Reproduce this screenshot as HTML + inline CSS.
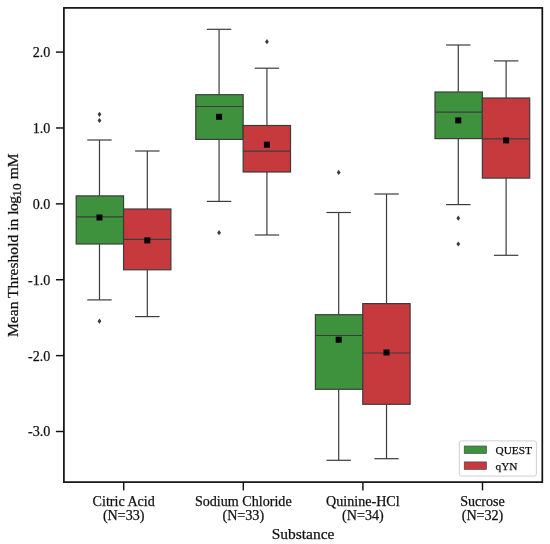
<!DOCTYPE html>
<html><head><meta charset="utf-8"><title>Mean Threshold Boxplot</title>
<style>
html,body{margin:0;padding:0;background:#fff;}
svg{display:block;}
text{font-family:"Liberation Serif","Times New Roman",serif;fill:#111;}
</style></head><body>
<svg width="550" height="544" viewBox="0 0 550 544">
<rect x="0" y="0" width="550" height="544" fill="#fff"/>
<g stroke="#3c3c3e" stroke-width="1.2" fill="none">
<line x1="99.48" y1="140.00" x2="99.48" y2="195.90"/>
<line x1="99.48" y1="244.00" x2="99.48" y2="299.90"/>
<line x1="87.26" y1="140.00" x2="111.70" y2="140.00"/>
<line x1="87.26" y1="299.90" x2="111.70" y2="299.90"/>
<rect x="76.19" y="195.90" width="47.36" height="48.10" fill="#3f923d"/>
<line x1="76.19" y1="216.80" x2="123.55" y2="216.80"/>
<rect x="96.48" y="214.50" width="6" height="6" fill="#000" stroke="none"/>
<path d="M99.48 111.70 L101.38 114.30 L99.48 116.90 L97.58 114.30 Z" fill="#3c3c3e" stroke="none"/>
<path d="M99.48 117.90 L101.38 120.50 L99.48 123.10 L97.58 120.50 Z" fill="#3c3c3e" stroke="none"/>
<path d="M99.48 318.60 L101.38 321.20 L99.48 323.80 L97.58 321.20 Z" fill="#3c3c3e" stroke="none"/>
<line x1="147.32" y1="151.00" x2="147.32" y2="209.00"/>
<line x1="147.32" y1="269.80" x2="147.32" y2="316.60"/>
<line x1="135.10" y1="151.00" x2="159.54" y2="151.00"/>
<line x1="135.10" y1="316.60" x2="159.54" y2="316.60"/>
<rect x="123.55" y="209.00" width="47.36" height="60.80" fill="#c6393d"/>
<line x1="123.55" y1="239.40" x2="170.91" y2="239.40"/>
<rect x="144.32" y="237.40" width="6" height="6" fill="#000" stroke="none"/>
<line x1="219.08" y1="29.30" x2="219.08" y2="94.70"/>
<line x1="219.08" y1="139.40" x2="219.08" y2="201.40"/>
<line x1="206.86" y1="29.30" x2="231.30" y2="29.30"/>
<line x1="206.86" y1="201.40" x2="231.30" y2="201.40"/>
<rect x="195.79" y="94.70" width="47.36" height="44.70" fill="#3f923d"/>
<line x1="195.79" y1="106.50" x2="243.15" y2="106.50"/>
<rect x="216.08" y="113.80" width="6" height="6" fill="#000" stroke="none"/>
<path d="M219.08 230.10 L220.98 232.70 L219.08 235.30 L217.18 232.70 Z" fill="#3c3c3e" stroke="none"/>
<line x1="266.92" y1="68.20" x2="266.92" y2="125.50"/>
<line x1="266.92" y1="172.00" x2="266.92" y2="235.00"/>
<line x1="254.70" y1="68.20" x2="279.14" y2="68.20"/>
<line x1="254.70" y1="235.00" x2="279.14" y2="235.00"/>
<rect x="243.15" y="125.50" width="47.36" height="46.50" fill="#c6393d"/>
<line x1="243.15" y1="151.20" x2="290.51" y2="151.20"/>
<rect x="263.92" y="141.70" width="6" height="6" fill="#000" stroke="none"/>
<path d="M266.92 39.10 L268.82 41.70 L266.92 44.30 L265.02 41.70 Z" fill="#3c3c3e" stroke="none"/>
<line x1="338.68" y1="212.50" x2="338.68" y2="314.70"/>
<line x1="338.68" y1="389.30" x2="338.68" y2="460.30"/>
<line x1="326.46" y1="212.50" x2="350.90" y2="212.50"/>
<line x1="326.46" y1="460.30" x2="350.90" y2="460.30"/>
<rect x="315.39" y="314.70" width="47.36" height="74.60" fill="#3f923d"/>
<line x1="315.39" y1="335.50" x2="362.75" y2="335.50"/>
<rect x="335.68" y="336.70" width="6" height="6" fill="#000" stroke="none"/>
<path d="M338.68 169.80 L340.58 172.40 L338.68 175.00 L336.78 172.40 Z" fill="#3c3c3e" stroke="none"/>
<line x1="386.52" y1="194.00" x2="386.52" y2="303.60"/>
<line x1="386.52" y1="404.30" x2="386.52" y2="458.70"/>
<line x1="374.30" y1="194.00" x2="398.74" y2="194.00"/>
<line x1="374.30" y1="458.70" x2="398.74" y2="458.70"/>
<rect x="362.75" y="303.60" width="47.36" height="100.70" fill="#c6393d"/>
<line x1="362.75" y1="353.00" x2="410.11" y2="353.00"/>
<rect x="383.52" y="349.50" width="6" height="6" fill="#000" stroke="none"/>
<line x1="458.28" y1="45.00" x2="458.28" y2="92.00"/>
<line x1="458.28" y1="138.60" x2="458.28" y2="204.60"/>
<line x1="446.06" y1="45.00" x2="470.50" y2="45.00"/>
<line x1="446.06" y1="204.60" x2="470.50" y2="204.60"/>
<rect x="434.99" y="92.00" width="47.36" height="46.60" fill="#3f923d"/>
<line x1="434.99" y1="112.10" x2="482.35" y2="112.10"/>
<rect x="455.28" y="117.40" width="6" height="6" fill="#000" stroke="none"/>
<path d="M458.28 215.60 L460.18 218.20 L458.28 220.80 L456.38 218.20 Z" fill="#3c3c3e" stroke="none"/>
<path d="M458.28 241.40 L460.18 244.00 L458.28 246.60 L456.38 244.00 Z" fill="#3c3c3e" stroke="none"/>
<line x1="506.12" y1="60.90" x2="506.12" y2="98.00"/>
<line x1="506.12" y1="178.10" x2="506.12" y2="255.30"/>
<line x1="493.90" y1="60.90" x2="518.34" y2="60.90"/>
<line x1="493.90" y1="255.30" x2="518.34" y2="255.30"/>
<rect x="482.35" y="98.00" width="47.36" height="80.10" fill="#c6393d"/>
<line x1="482.35" y1="138.90" x2="529.71" y2="138.90"/>
<rect x="503.12" y="137.40" width="6" height="6" fill="#000" stroke="none"/>
</g>
<rect x="63.9" y="7.9" width="478.40" height="474.20" fill="none" stroke="#111" stroke-width="1.7"/>
<g stroke="#111" stroke-width="1.45" font-size="14.1" >
<g stroke-linecap="butt">
<line x1="55.90" y1="52.10" x2="63.90" y2="52.10"/>
<text stroke="#111" stroke-width="0.25" x="50.4" y="57.00" text-anchor="end">2.0</text>
<line x1="55.90" y1="127.98" x2="63.90" y2="127.98"/>
<text stroke="#111" stroke-width="0.25" x="50.4" y="132.88" text-anchor="end">1.0</text>
<line x1="55.90" y1="203.86" x2="63.90" y2="203.86"/>
<text stroke="#111" stroke-width="0.25" x="50.4" y="208.76" text-anchor="end">0.0</text>
<line x1="55.90" y1="279.74" x2="63.90" y2="279.74"/>
<text stroke="#111" stroke-width="0.25" x="50.4" y="284.64" text-anchor="end">-1.0</text>
<line x1="55.90" y1="355.62" x2="63.90" y2="355.62"/>
<text stroke="#111" stroke-width="0.25" x="50.4" y="360.52" text-anchor="end">-2.0</text>
<line x1="55.90" y1="431.50" x2="63.90" y2="431.50"/>
<text stroke="#111" stroke-width="0.25" x="50.4" y="436.40" text-anchor="end">-3.0</text>
<line x1="123.70" y1="482.10" x2="123.70" y2="490.40"/>
<text stroke="#111" stroke-width="0.25" x="123.70" y="505.6" text-anchor="middle">Citric Acid</text>
<text stroke="#111" stroke-width="0.25" x="123.70" y="519.8" text-anchor="middle">(N=33)</text>
<line x1="243.30" y1="482.10" x2="243.30" y2="490.40"/>
<text stroke="#111" stroke-width="0.25" x="243.30" y="505.6" text-anchor="middle">Sodium Chloride</text>
<text stroke="#111" stroke-width="0.25" x="243.30" y="519.8" text-anchor="middle">(N=33)</text>
<line x1="362.90" y1="482.10" x2="362.90" y2="490.40"/>
<text stroke="#111" stroke-width="0.25" x="362.90" y="505.6" text-anchor="middle">Quinine-HCl</text>
<text stroke="#111" stroke-width="0.25" x="362.90" y="519.8" text-anchor="middle">(N=34)</text>
<line x1="482.50" y1="482.10" x2="482.50" y2="490.40"/>
<text stroke="#111" stroke-width="0.25" x="482.50" y="505.6" text-anchor="middle">Sucrose</text>
<text stroke="#111" stroke-width="0.25" x="482.50" y="519.8" text-anchor="middle">(N=32)</text>
</g>
</g>
<text stroke="#111" stroke-width="0.25" x="303.10" y="539.2" text-anchor="middle" font-size="15.5">Substance</text>
<text stroke="#111" stroke-width="0.25" transform="translate(17.75 245.2) rotate(-90)" text-anchor="middle" font-size="15.6">Mean Threshold in <tspan letter-spacing="-0.6">log</tspan><tspan font-size="13.4" dy="3.2">10</tspan><tspan dy="-3.2"> mM</tspan></text>
<g>
<rect x="459.3" y="440.9" width="77.1" height="35.2" rx="2.2" ry="2.2" fill="#fff" stroke="#d0d0d0" stroke-width="1"/>
<rect x="464.2" y="446.0" width="22.3" height="7.5" fill="#3f923d" stroke="#3c3c3e" stroke-width="0.6"/>
<rect x="464.2" y="461.9" width="22.3" height="7.5" fill="#c6393d" stroke="#3c3c3e" stroke-width="0.6"/>
<text stroke="#111" stroke-width="0.25" x="495.5" y="453.9" font-size="11.3">QUEST</text>
<text stroke="#111" stroke-width="0.25" x="495.5" y="469.8" font-size="11.3">qYN</text>
</g>
</svg>
</body></html>
